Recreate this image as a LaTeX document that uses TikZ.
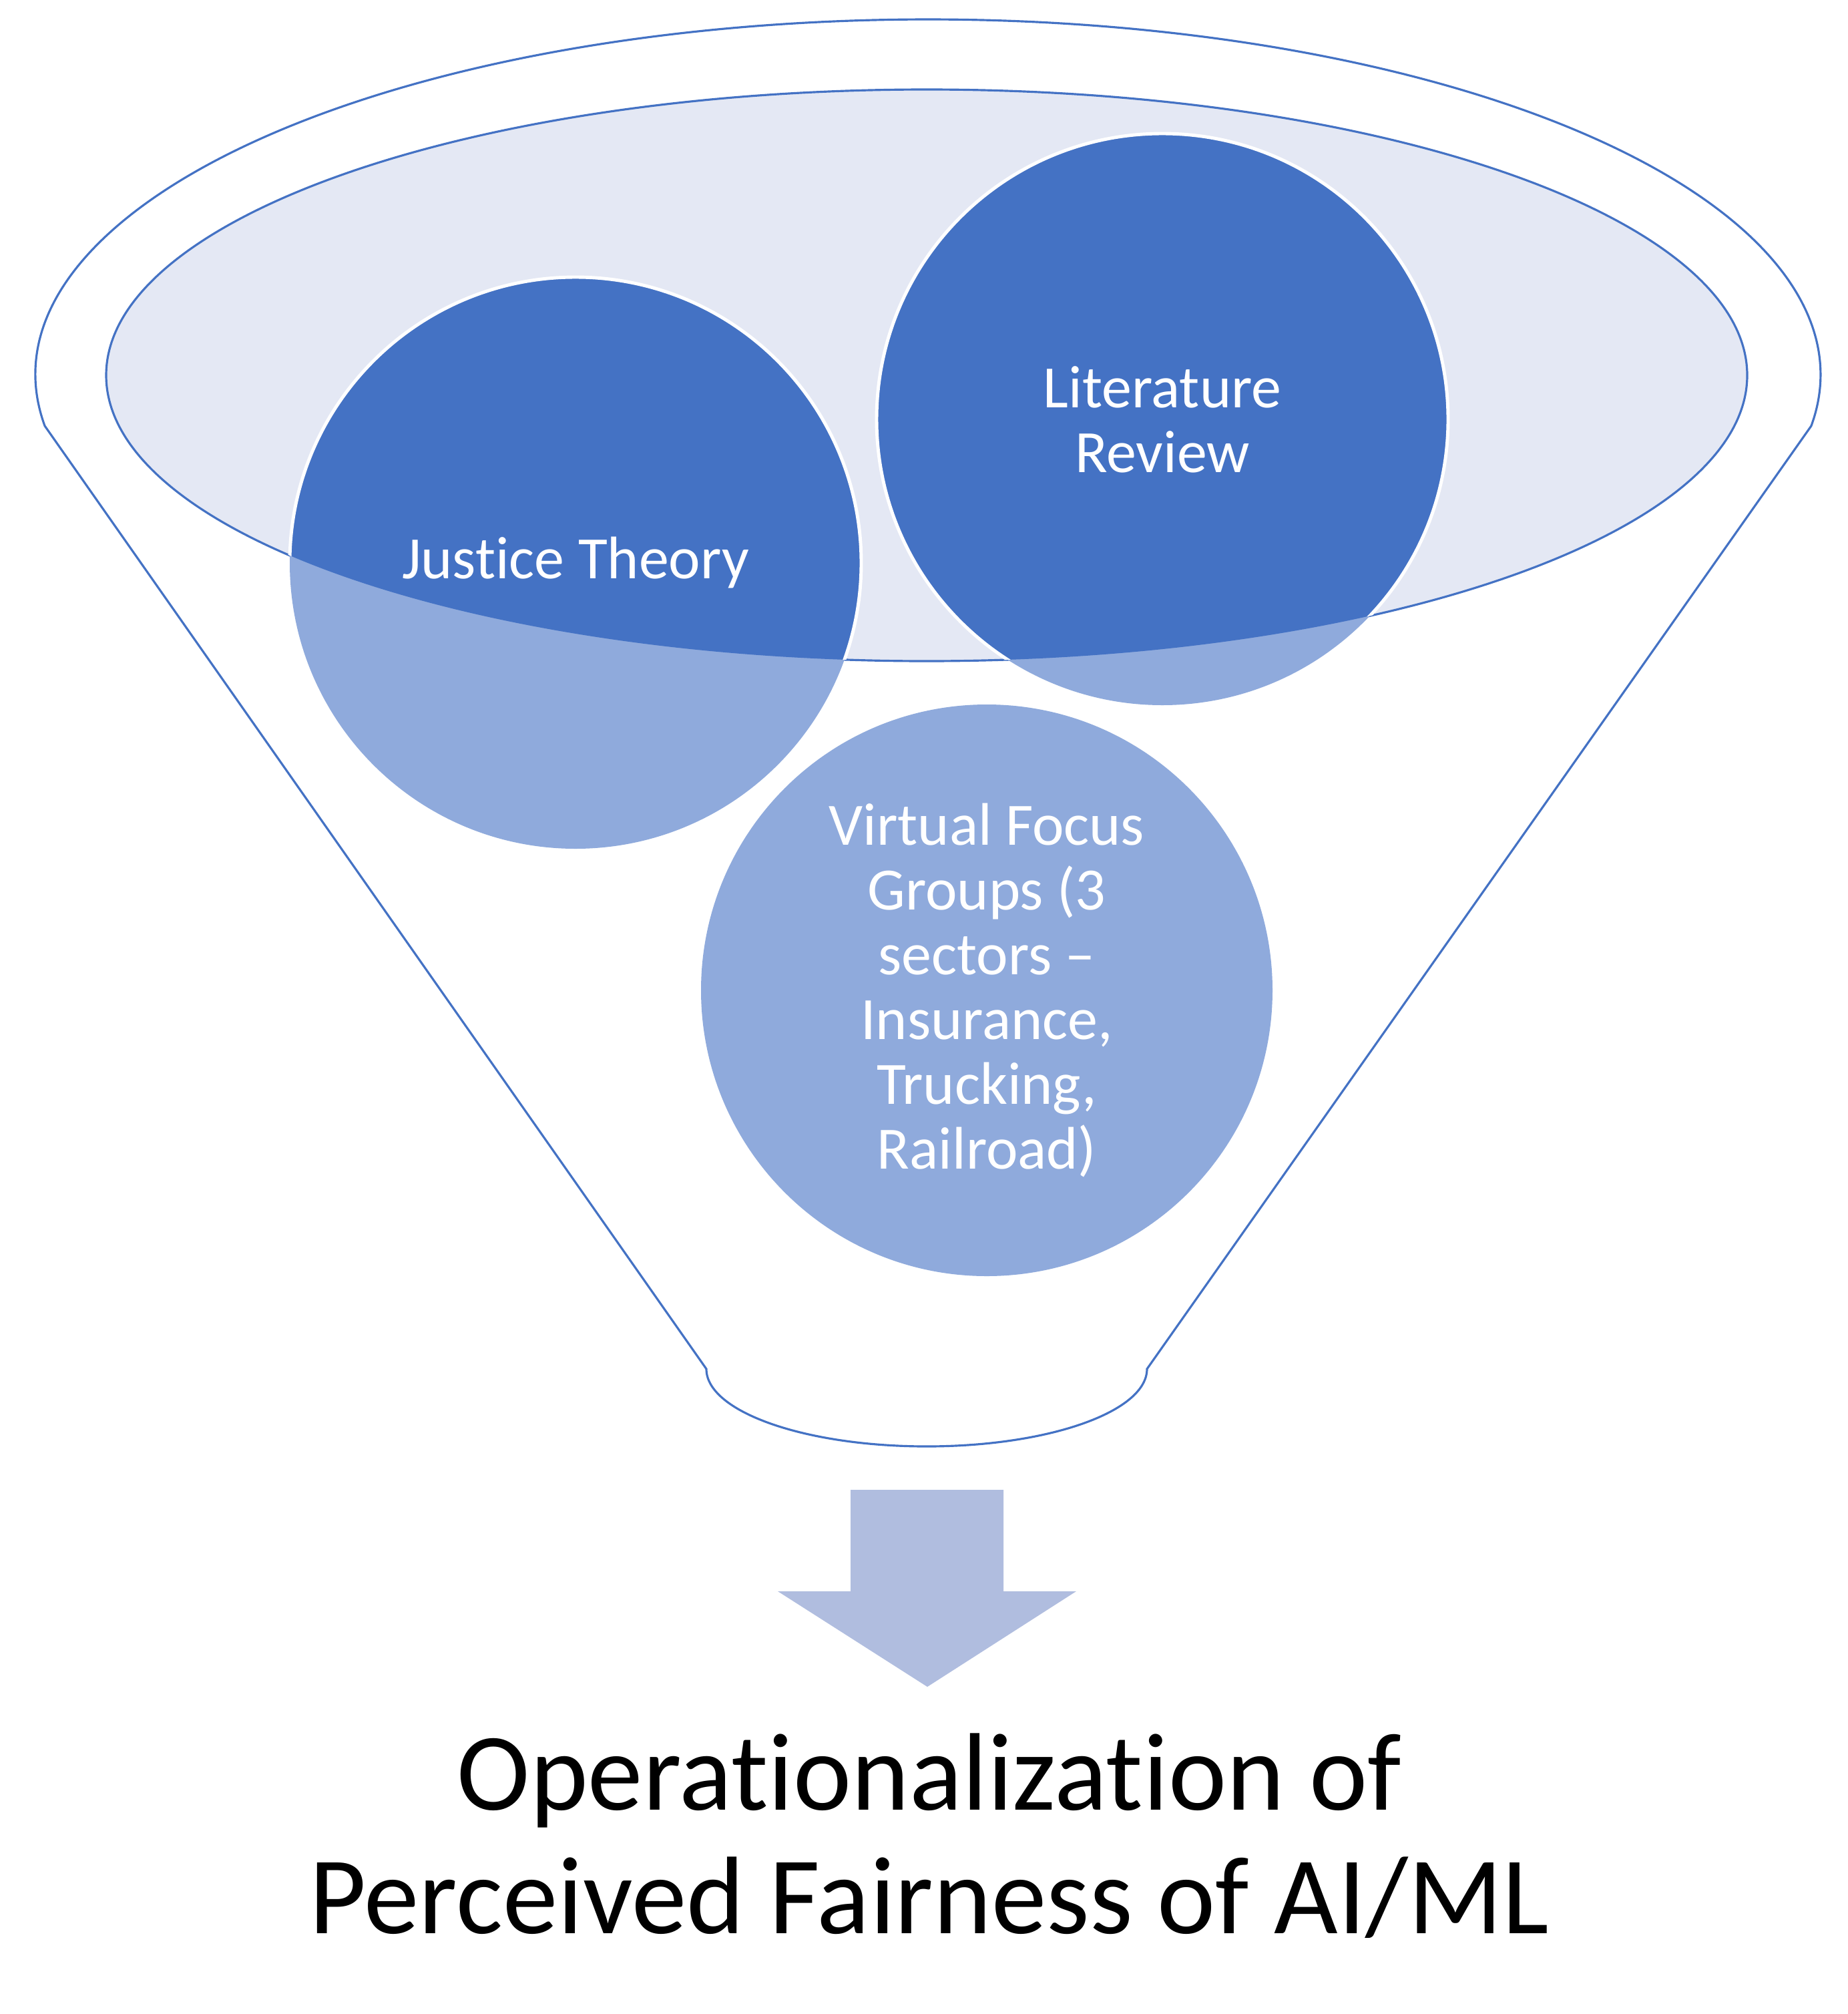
\documentclass[tikz,border=0pt]{standalone}
\usepackage{fontspec}
\setmainfont{Carlito}[Ligatures=NoCommon]
\definecolor{funnelblue}{RGB}{68, 114, 196}
\definecolor{bubblelight}{RGB}{143, 170, 220}
\definecolor{mouthfill}{RGB}{228, 232, 244}
\definecolor{arrowblue}{RGB}{176, 189, 223}
\usetikzlibrary{positioning, calc}

\begin{document}
\begin{tikzpicture}
  \useasboundingbox (0, 0) rectangle (27.68, -30.16);

  % Funnel body
  \draw[funnelblue, line width=0.9pt, fill=white] (13.90, -5.61) ++(188.3:13.37 and 5.32)
    arc[start angle=188.3, end angle=-8.3, x radius=13.37, y radius=5.32]
    -- (17.18, -20.50) arc[start angle=0, end angle=-180, x radius=3.30, y radius=1.16] -- cycle;

  % Funnel mouth
  \draw[funnelblue, line width=0.9pt, fill=mouthfill] (13.88, -5.62) ellipse[x radius=12.29, y radius=4.28];

  % Circle centres
  \coordinate (justice) at (8.62, -8.43);
  \coordinate (review) at (17.41, -6.28);
  \coordinate (groups) at (14.78, -14.83);

  % Circles, pale below the mouth
  \foreach \n in {justice, review, groups} {
    \fill[bubblelight] (\n) circle (4.28);
  }

  % Dark where they sit inside the mouth
  \begin{scope}
    \clip (13.88, -5.62) ellipse[x radius=12.29, y radius=4.28];
    \foreach \n in {justice, review} {
      \filldraw[fill=funnelblue, draw=white, line width=1.4pt] (\n) circle (4.28);
    }
  \end{scope}

  % Circle labels
  \node[font=\fontsize{25.6}{27.6}\selectfont, text=white, align=center] (justicetext) at (justice) {Justice Theory};
  \node[font=\fontsize{25.6}{27.6}\selectfont, text=white, align=center] (reviewtext) at (review) {Literature\\Review};
  \node[font=\fontsize{25.6}{27.6}\selectfont, text=white, align=center] (groupstext) at (groups) {Virtual Focus\\Groups (3\\sectors --\\Insurance,\\Trucking,\\Railroad)};

  % Down arrow
  \fill[arrowblue] (12.74, -22.31) -- (15.03, -22.31) -- (15.03, -23.83) -- (16.12, -23.83)
    -- (13.89, -25.26) -- (11.65, -23.83) -- (12.74, -23.83) -- cycle;

  % Outcome
  \node[font=\fontsize{47}{52.6}\selectfont, align=center, anchor=base] (outcome) at (13.92, -28.95) {Operationalization of\\Perceived Fairness of AI/ML};
\end{tikzpicture}
\end{document}
